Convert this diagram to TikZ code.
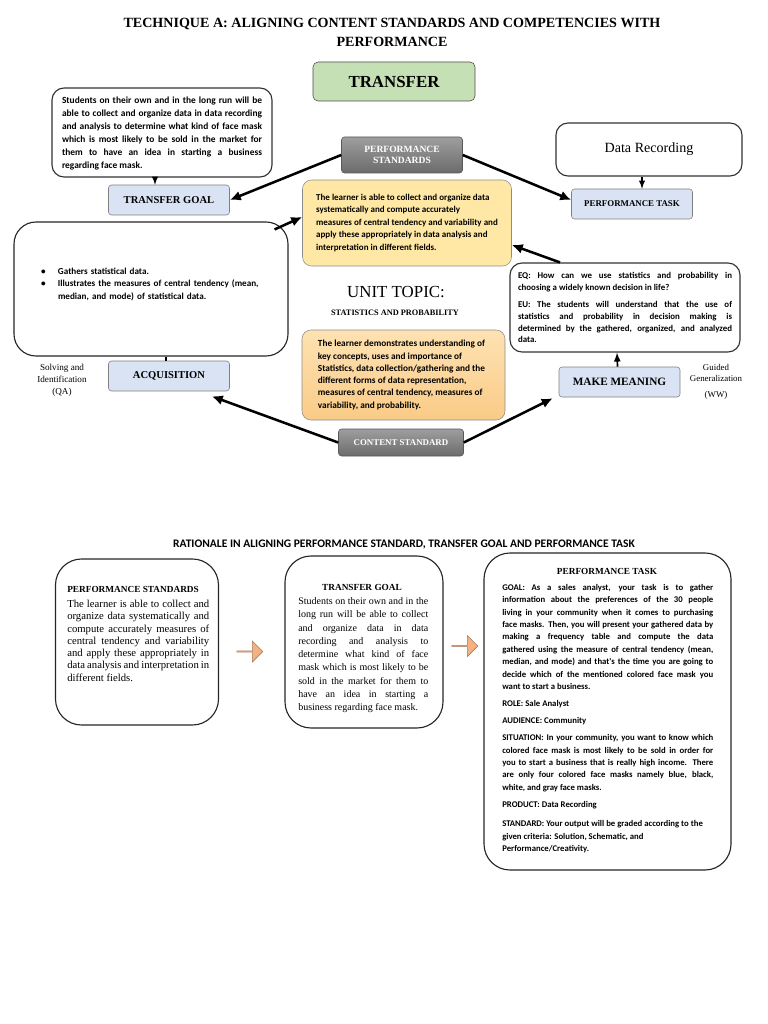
\documentclass[tikz,border=0pt]{standalone}
\usepackage{fontspec}
\setmainfont{Liberation Serif}
\newfontfamily\calib{Carlito}
\usetikzlibrary{arrows,arrows.meta,shapes.arrows}
\newlength\pix
\setlength\pix{0.025cm}
\hyphenpenalty=10000
\exhyphenpenalty=10000
\hbadness=10000
\hfuzz=20pt
\definecolor{greenfill}{RGB}{197,224,180}
\definecolor{bluefill}{RGB}{218,227,243}
\definecolor{yellowfill}{RGB}{255,232,165}
\definecolor{orangetop}{RGB}{254,226,178}
\definecolor{orangebot}{RGB}{250,203,135}
\definecolor{salmon}{RGB}{244,177,131}
\begin{document}
\begin{tikzpicture}[x=0.025cm,y=-0.025cm,
	whitebox/.style={draw=black!80, fill=white, rounded corners=12\pix, thick},
	bluebox/.style={draw=black!50, fill=bluefill, rounded corners=3\pix, minimum width=121\pix, minimum height=30\pix},
	greybox/.style={draw=black!65, top color=black!38, bottom color=black!58, rounded corners=3\pix, text=white, font=\bfseries\fontsize{6.8}{7.8}\selectfont, align=center},
	calibtext/.style={font=\calib\bfseries\fontsize{6.8}{7.7}\selectfont, inner sep=0pt},
	bigbox/.style={draw=black!85, fill=white, rounded corners=26\pix, thick},
	blockarrow/.style={single arrow, draw=salmon!70!black, fill=salmon, minimum width=21\pix, minimum height=26\pix, single arrow head extend=4\pix, inner sep=0pt},
	link/.style={-{Latex[length=7.8pt,width=7.1pt]}, line width=1.8pt}]
\useasboundingbox (0,0) rectangle (768,1024);

% title
\node[font=\bfseries\fontsize{10}{13.5}\selectfont, align=center] (title) at (392,32) {TECHNIQUE A: ALIGNING CONTENT STANDARDS AND COMPETENCIES WITH\\PERFORMANCE};
\node[draw=black!70, fill=greenfill, rounded corners=5\pix, minimum width=162\pix, minimum height=39\pix, font=\bfseries\fontsize{12}{14}\selectfont] (transfer) at (394,81.5) {TRANSFER};

% transfer goal
\node[whitebox, minimum width=220\pix, minimum height=89\pix] (tgtext) at (162,132.5) {};
\node[calibtext, font=\calib\bfseries\fontsize{6.7}{9.2}\selectfont, text width=200\pix, align=justify] at ([yshift=-1\pix]tgtext) {Students on their own and in the long run will be\linebreak able to collect and organize data in data recording\linebreak and analysis to determine what kind of face mask\linebreak which is most likely to be sold in the market for\linebreak them to have an idea in starting a business\linebreak regarding face mask.};
\node[bluebox, font=\bfseries\fontsize{7.5}{9}\selectfont] (tgoal) at (169,200) {TRANSFER GOAL};

% performance standards
\node[greybox, minimum width=121\pix, minimum height=36\pix] (psgrey) at (402,155) {PERFORMANCE\\STANDARDS};
\node[draw=black!45, fill=yellowfill, rounded corners=9\pix, minimum width=209\pix, minimum height=86\pix] (psyellow) at (407,223) {};
\node[calibtext, font=\calib\bfseries\fontsize{6.4}{8.9}\selectfont, align=left] at (psyellow) {The learner is able to collect and organize data\\systematically and compute accurately\\measures of central tendency and variability and\\apply these appropriately in data analysis and\\interpretation in different fields.};

% performance task
\node[whitebox, minimum width=186\pix, minimum height=53\pix, font=\fontsize{10}{12}\selectfont] (drbox) at (649,149.5) {Data Recording};
\node[bluebox, font=\bfseries\fontsize{6.3}{8}\selectfont] (ptask) at (632,204) {PERFORMANCE TASK};

% acquisition
\node[bigbox, rounded corners=22\pix, minimum width=274\pix, minimum height=134\pix] (acqbox) at (151,289) {};
\node[calibtext, font=\calib\bfseries\fontsize{6.5}{8.9}\selectfont, text width=222\pix, align=left] (acqtext) at (152,284) {%
	\makebox[17\pix][l]{\textbullet}\parbox[t]{205\pix}{\raggedright Gathers statistical data.}\\
	\makebox[17\pix][l]{\textbullet}\parbox[t]{205\pix}{\raggedright Illustrates the measures of central tendency (mean,\\ median, and mode) of statistical data.}};
\node[bluebox, font=\bfseries\fontsize{7.5}{9}\selectfont] (acq) at (169,376) {ACQUISITION};
\node[font=\fontsize{6.5}{8.5}\selectfont, align=center] (qa) at (62,380) {Solving and\\Identification\\(QA)};

% unit topic
\node[font=\fontsize{12}{14}\selectfont] (unit) at (396,292) {UNIT TOPIC:};
\node[font=\bfseries\fontsize{5.9}{7}\selectfont] (topic) at (395,313) {STATISTICS AND PROBABILITY};

% content standard
\node[draw=black!45, top color=orangetop, bottom color=orangebot, rounded corners=9\pix, minimum width=203\pix, minimum height=90\pix] (csbox) at (403.5,375) {};
\node[calibtext, font=\calib\bfseries\fontsize{6.6}{8.7}\selectfont, align=left] at ([xshift=-2\pix]csbox) {The learner demonstrates understanding of\\key concepts, uses and importance of\\Statistics, data collection/gathering and the\\different forms of data representation,\\measures of central tendency, measures of\\variability, and probability.};
\node[greybox, minimum width=125\pix, minimum height=27\pix, font=\bfseries\fontsize{6.3}{7}\selectfont] (csgrey) at (401,442.5) {CONTENT STANDARD};

% make meaning
\node[whitebox, minimum width=230\pix, minimum height=89\pix] (eqbox) at (625,307.5) {};
\node[calibtext, font=\calib\bfseries\fontsize{6.3}{8.5}\selectfont, text width=214\pix, align=justify] at (eqbox) {EQ: How can we use statistics and probability in\linebreak choosing a widely known decision in life?\par\vspace{5\pix}
EU: The students will understand that the use of\linebreak statistics and probability in decision making is\linebreak determined by the gathered, organized, and analyzed\linebreak data.};
\node[bluebox, font=\bfseries\fontsize{8}{9}\selectfont] (mm) at (619.5,382) {MAKE MEANING};
\node[font=\fontsize{6.3}{8}\selectfont, align=center] (gg) at (716,382) {Guided\\Generalization\\[5\pix](WW)};

% connectors
\draw[link] (psgrey.west) -- (tgoal.east);
\draw[link] (psgrey.east) -- ([yshift=4\pix]ptask.west);
\draw[link] (csgrey.west) -- ([xshift=-18\pix,yshift=-5\pix]acq.south east);
\draw[link] (csgrey.east) -- ([xshift=-6\pix,yshift=-1\pix]mm.south west);
\draw[link] ([xshift=-14\pix,yshift=-8\pix]acqbox.north east) -- ([yshift=6\pix]psyellow.west);
\draw[link] ([xshift=-65\pix]eqbox.north) -- ([yshift=-22\pix]psyellow.east);
\draw[-latex, line width=1pt] ([xshift=-7\pix]tgtext.south) -- ([xshift=-14\pix]tgoal.north);
\draw[-latex, line width=1pt] ([xshift=-7\pix]drbox.south) -- ([xshift=10\pix]ptask.north);
\draw[line width=1pt] ([xshift=15\pix]acqbox.south) -- ([xshift=-3\pix]acq.north);
\draw[-latex, line width=1.2pt] ([xshift=-2\pix]mm.north) -- ([xshift=-8\pix]eqbox.south);

% rationale
\node[font=\calib\bfseries\fontsize{8.2}{9}\selectfont] (rationale) at (404,544) {RATIONALE IN ALIGNING PERFORMANCE STANDARD, TRANSFER GOAL AND PERFORMANCE TASK};

\node[bigbox, minimum width=163\pix, minimum height=166\pix] (bps) at (137,642) {};
\node[font=\bfseries\fontsize{6.6}{8}\selectfont, anchor=west, inner sep=0pt] (bpstitle) at (67,589) {PERFORMANCE STANDARDS};
\node[font=\fontsize{7.6}{8.7}\selectfont, text width=142\pix, align=justify, inner sep=0pt, anchor=north west] (bpstext) at (67,600) {The learner is able to collect and\linebreak organize data systematically and\linebreak compute accurately measures of\linebreak central tendency and variability\linebreak and apply these appropriately in\linebreak data analysis and interpretation in\linebreak different fields.};

\node[blockarrow] (barrow1) at (249.5,651.5) {};

\node[bigbox, minimum width=158\pix, minimum height=172\pix] (btg) at (364,642) {};
\node[font=\bfseries\fontsize{6.6}{8}\selectfont] (btgtitle) at (362,587) {TRANSFER GOAL};
\node[font=\fontsize{7.1}{9.4}\selectfont, text width=130\pix, align=justify, inner sep=0pt, anchor=north west] (btgtext) at (298,597.5) {Students on their own and in the\linebreak long run will be able to collect\linebreak and organize data in data\linebreak recording and analysis to\linebreak determine what kind of face\linebreak mask which is most likely to be\linebreak sold in the market for them to\linebreak have an idea in starting a\linebreak business regarding face mask.};

\node[blockarrow] (barrow2) at (464.5,646) {};

\node[bigbox, minimum width=247\pix, minimum height=317\pix] (bpt) at (607.5,711.5) {};
\node[font=\bfseries\fontsize{6.6}{8}\selectfont] (bpttitle) at (607,571) {PERFORMANCE TASK};
\node[calibtext, font=\calib\bfseries\fontsize{6.2}{8.8}\selectfont, text width=211\pix, align=justify, anchor=north west] (bpttext) at (502,584) {GOAL: As a sales analyst, your task is to gather\linebreak information about the preferences of the 30 people\linebreak living in your community when it comes to purchasing\linebreak face masks. Then, you will present your gathered data by\linebreak making a frequency table and compute the data\linebreak gathered using the measure of central tendency (mean,\linebreak median, and mode) and that's the time you are going to\linebreak decide which of the mentioned colored face mask you\linebreak want to start a business.\par\vspace{4.6\pix}
ROLE: Sale Analyst\par\vspace{4.6\pix}
AUDIENCE: Community\par\vspace{5\pix}
SITUATION: In your community, you want to know which\linebreak colored face mask is most likely to be sold in order for\linebreak you to start a business that is really high income. There\linebreak are only four colored face masks namely blue, black,\linebreak white, and gray face masks.\par\vspace{5\pix}
PRODUCT: Data Recording\par\vspace{7\pix}
STANDARD: Your output will be graded according to the\\given criteria: Solution, Schematic, and\\Performance/Creativity.};
\end{tikzpicture}
\end{document}
